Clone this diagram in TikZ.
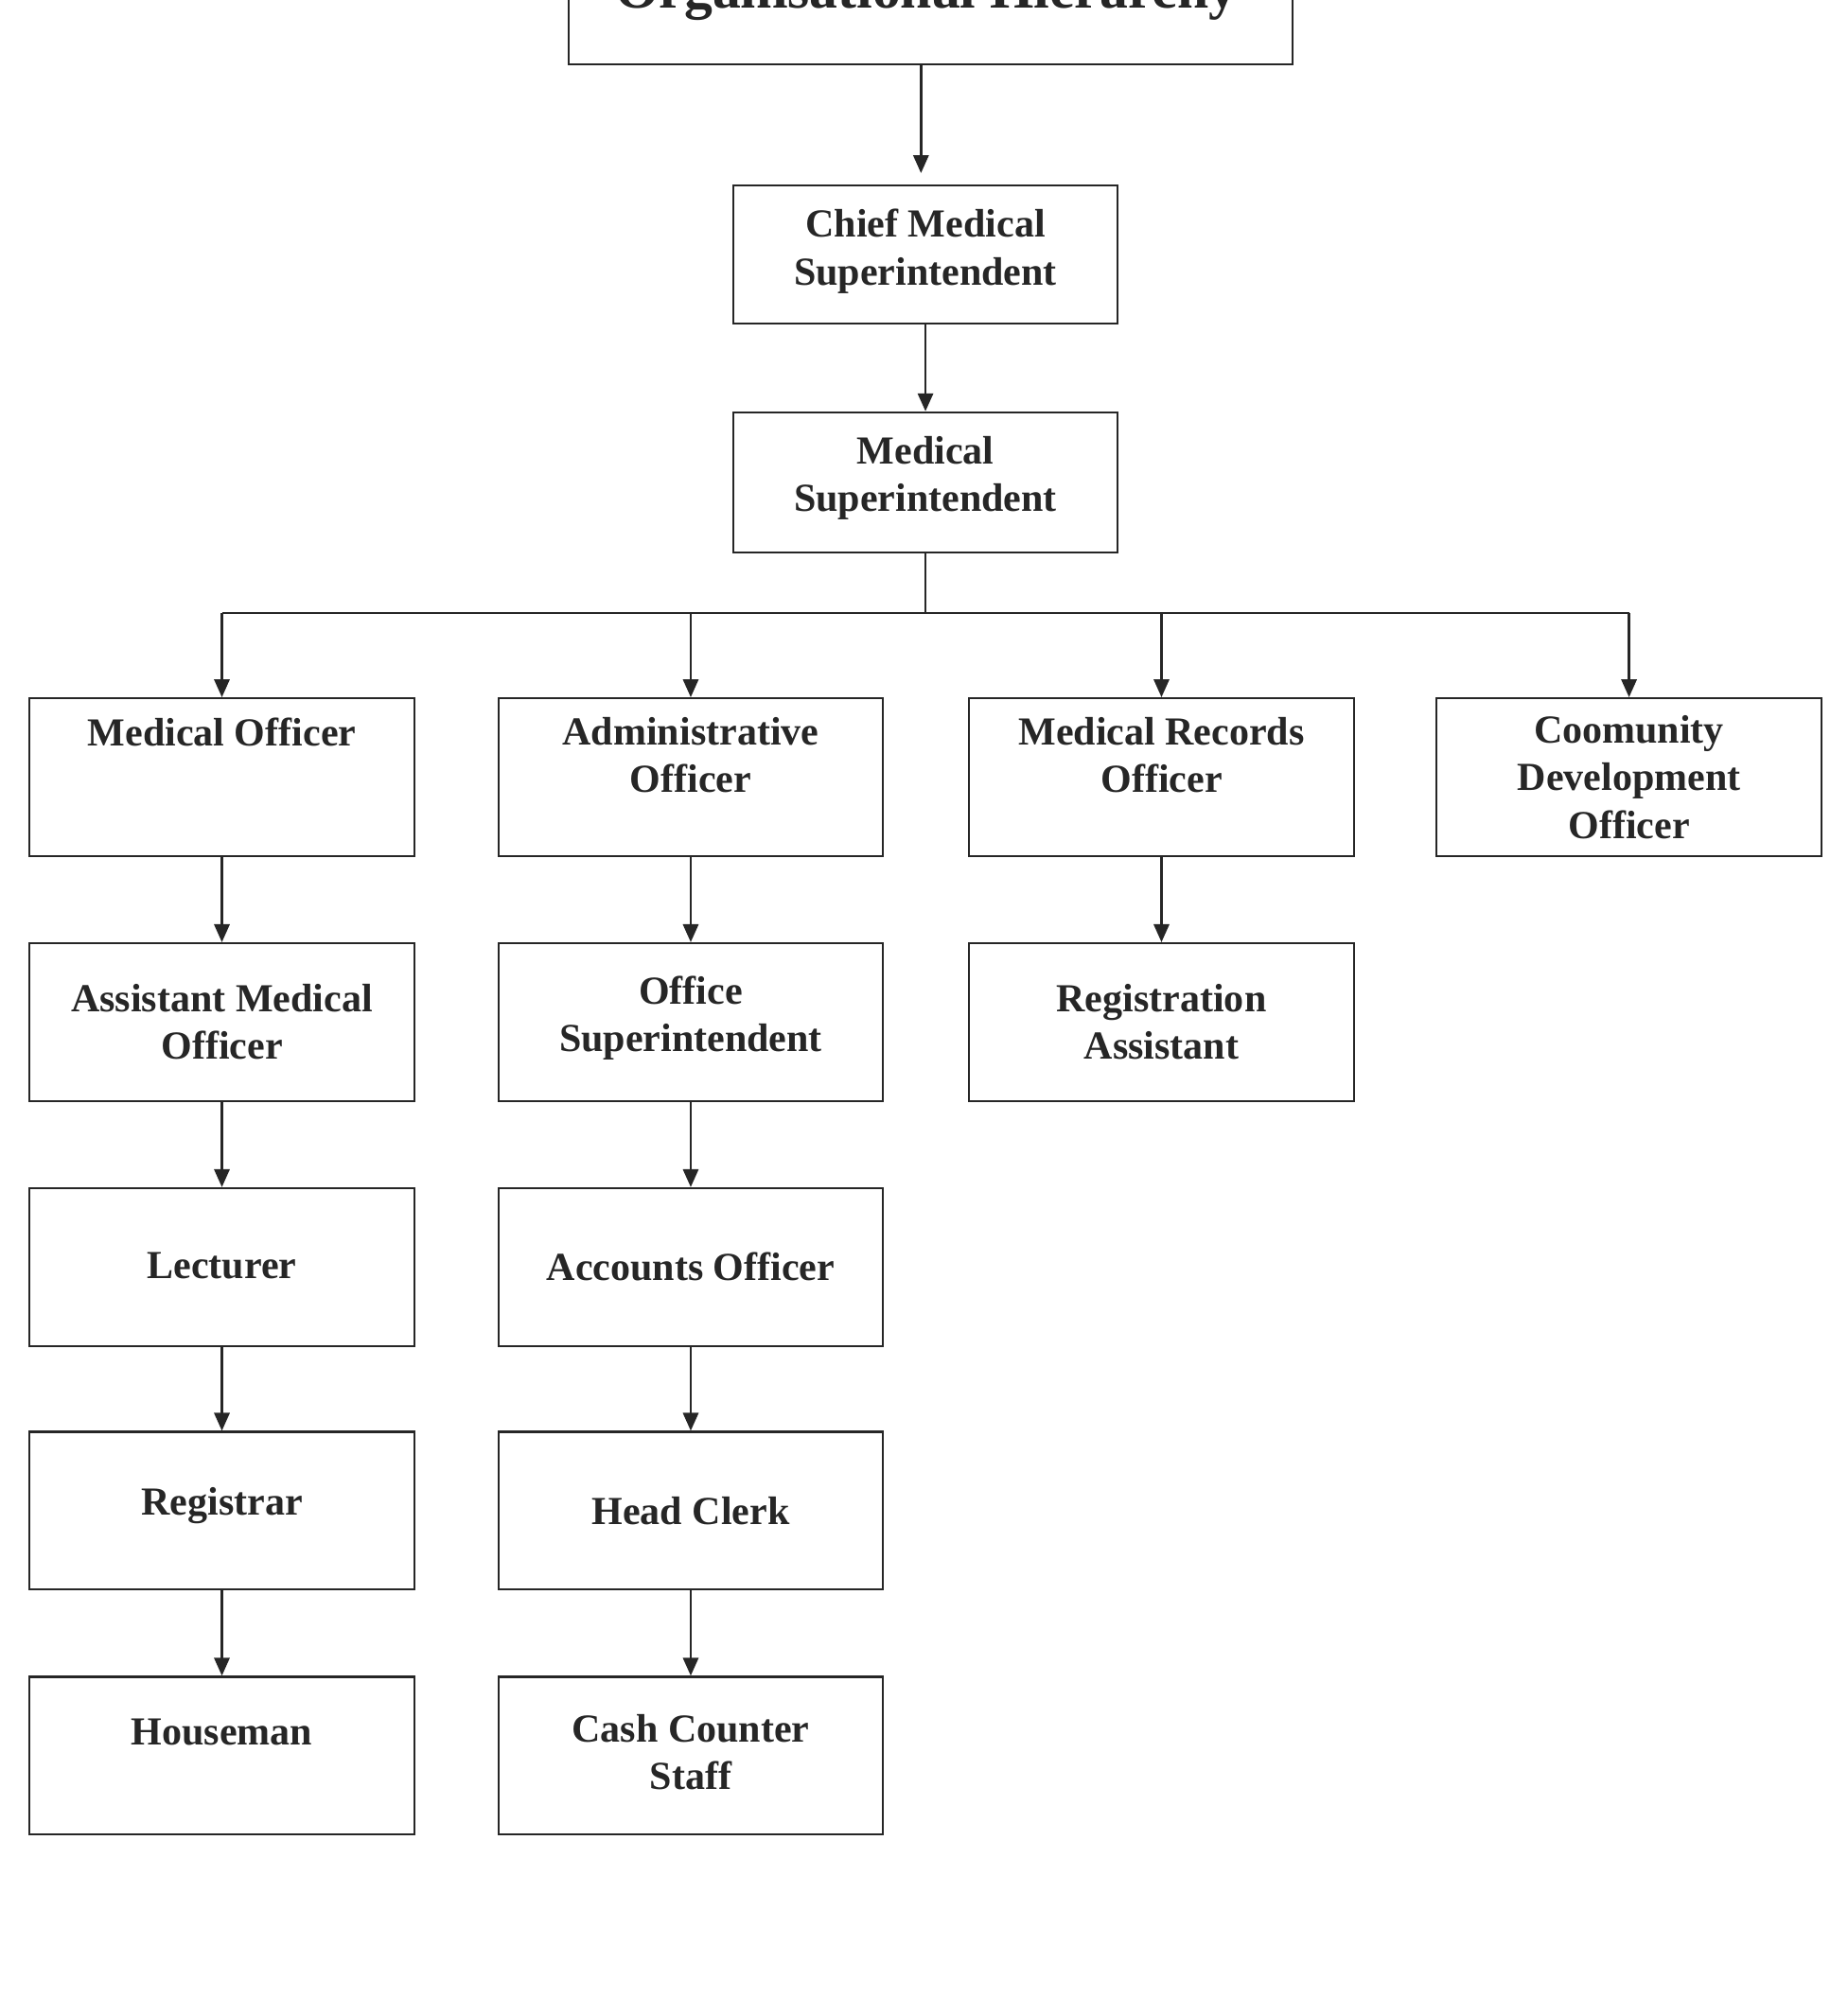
\documentclass[tikz,border=0pt]{standalone}
\usepackage{fontspec}
\setmainfont{Liberation Serif}
\usetikzlibrary{arrows.meta}
\begin{document}
\begin{tikzpicture}[x=0.5pt,y=-0.5pt,
  box/.style={draw=black!85,line width=0.8pt,minimum width=150pt,minimum height=61.5pt,inner sep=0pt},
  lbl/.style={font=\fontsize{15.5}{18.5}\selectfont\bfseries,align=center,text=black!85},
  arr/.style={draw=black!85,line width=0.9pt,-{Triangle[length=7pt,width=6pt]}},
  ln/.style={draw=black!85,line width=0.9pt}]
\useasboundingbox (0,0) rectangle (1440,1558);
\begin{scope}
\clip (0,0) rectangle (1440,1558);
\node[box,minimum width=282pt,minimum height=60pt] (top) at (725.5,-10) {};
\node[lbl,font=\fontsize{22}{26}\selectfont\bfseries] (tt) at (722,-4) {Organisational Hierarchy};
\end{scope}
\node[box,minimum height=54pt] (cms) at (721.5,198.5) {};
\node[lbl] at (721.5,196) {Chief Medical\\Superintendent};
\node[box,minimum height=54.5pt] (ms) at (721.5,376) {};
\node[lbl] at (721.5,373) {Medical\\Superintendent};
% row1
\node[box] (mo) at (173,606) {};
\node[lbl] at (173,571) {Medical Officer};
\node[box] (ao) at (538.5,606) {};
\node[lbl] at (538.5,589) {Administrative\\Officer};
\node[box] (mro) at (905.5,606) {};
\node[lbl] at (905.5,589) {Medical Records\\Officer};
\node[box] (cdo) at (1270,606) {};
\node[lbl] at (1270,606) {Coomunity\\Development\\Officer};
% row2
\node[box] (amo) at (173,797) {};
\node[lbl] at (173,797) {Assistant Medical\\Officer};
\node[box] (os) at (538.5,797) {};
\node[lbl] at (538.5,794) {Office\\Superintendent};
\node[box] (ra) at (905.5,797) {};
\node[lbl] at (905.5,797) {Registration\\Assistant};
% row3
\node[box] (lec) at (173,988) {};
\node[lbl] at (173,987) {Lecturer};
\node[box] (acc) at (538.5,988) {};
\node[lbl] at (538.5,988) {Accounts Officer};
% row4
\node[box] (reg) at (173,1178) {};
\node[lbl] at (173,1174) {Registrar};
\node[box] (hc) at (538.5,1178) {};
\node[lbl] at (538.5,1178) {Head Clerk};
% row5
\node[box] (hou) at (173,1369) {};
\node[lbl] at (173,1351) {Houseman};
\node[box] (ccs) at (538.5,1369) {};
\node[lbl] at (538.5,1366) {Cash Counter\\Staff};
% connectors
\coordinate (t1) at (718,50);
\coordinate (t2) at (718,135);
\draw[arr] (t1) -- (t2);
\draw[arr] (cms.south) -- (ms.north);
\coordinate (bus) at (721.5,478);
\draw[ln] (ms.south) -- (bus);
\draw[ln] (mo.north |- bus) -- (cdo.north |- bus);
\foreach \n in {mo,ao,mro,cdo} \draw[arr] (\n.north |- bus) -- (\n.north);
\draw[arr] (mo) -- (amo); \draw[arr] (amo) -- (lec); \draw[arr] (lec) -- (reg); \draw[arr] (reg) -- (hou);
\draw[arr] (ao) -- (os); \draw[arr] (os) -- (acc); \draw[arr] (acc) -- (hc); \draw[arr] (hc) -- (ccs);
\draw[arr] (mro) -- (ra);
\end{tikzpicture}
\end{document}
